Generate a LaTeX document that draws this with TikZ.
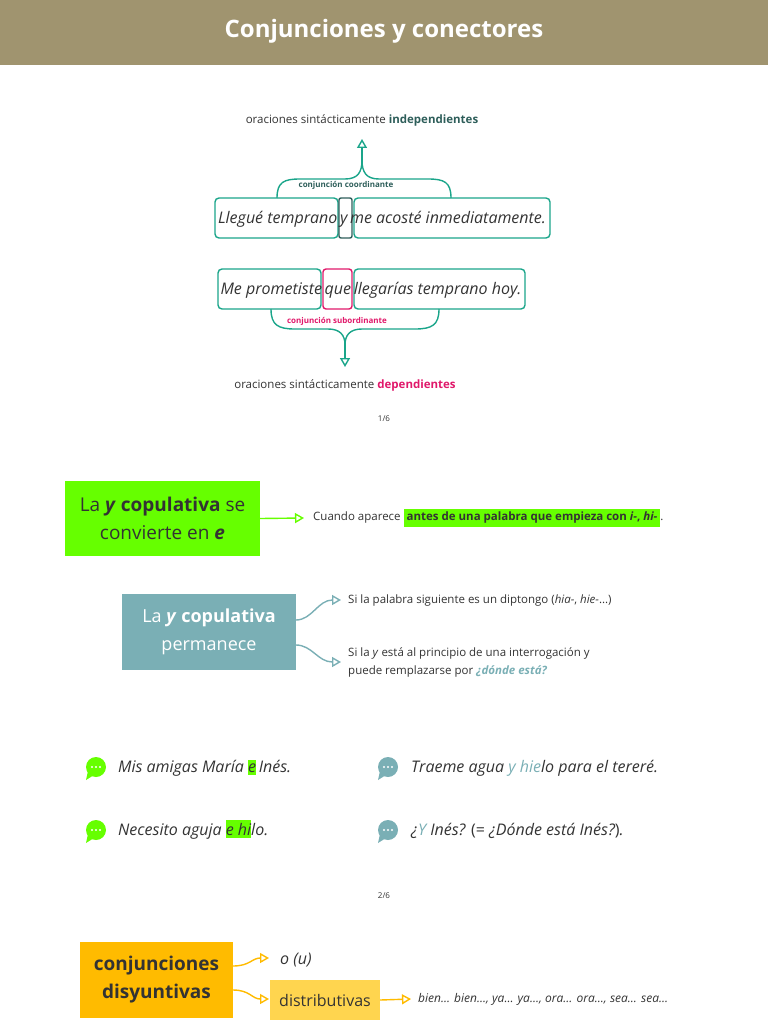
\documentclass[tikz,border=0pt]{standalone}
\usepackage{fontspec}
\setmainfont{Open Sans}
\usetikzlibrary{arrows.meta}
\definecolor{hdr}{HTML}{A0946F}
\definecolor{tealg}{HTML}{1AA58A}
\definecolor{dteal}{HTML}{2E5E5A}
\definecolor{mag}{HTML}{E0186A}
\definecolor{lime}{HTML}{66FF00}
\definecolor{bluet}{HTML}{7AAFB5}
\definecolor{org}{HTML}{FFBB00}
\definecolor{lorg}{HTML}{FFD54F}
\definecolor{txt}{HTML}{333333}
\tikzset{
 sbox/.style={draw=tealg,line width=1.4pt,rounded corners=4pt,inner sep=0pt},
 sent/.style={font=\fontsize{16}{18}\selectfont\itshape,text=txt,inner sep=0pt},
 small/.style={font=\fontsize{11.5}{14}\selectfont,text=txt,inner sep=0pt},
 otri/.style={-{Triangle[open,length=9pt,width=10pt]}},
 bubble/.pic={\fill[#1] (0,0) circle (10pt); \fill[#1] (-8pt,-4pt)--(-10pt,-13pt)--(-2pt,-8pt)--cycle;
   \foreach \d in {-4,0,4} \fill[white] (\d pt,0) circle (1.1pt);}
}
\begin{document}
\begin{tikzpicture}[x=1pt,y=-1pt]
\useasboundingbox (0,0) rectangle (768,1024);
\fill[hdr] (0,0) rectangle (768,65);
\node[text=white,font=\fontsize{24}{28}\selectfont\bfseries] (title) at (384,31) {Conjunciones y conectores};

% sentence 1
\node[small,anchor=base] (ind) at (362,124) {oraciones sintácticamente \textcolor{dteal}{\bfseries independientes}};
\draw[sbox] (215,198) rectangle (338,238);
\draw[sbox] (354,198) rectangle (550,238);
\draw[draw=dteal,line width=1.4pt,rounded corners=2pt] (339,198) rectangle (352,238);
\node[sent,anchor=base] (s1) at (382,223) {Llegué temprano\,y\,me acosté inmediatamente.};
\draw[tealg,line width=1.4pt] (277,198) .. controls (277,182) and (284,179) .. (300,179) -- (345,179) .. controls (358,179) and (362,172) .. (362,160)
  (451,198) .. controls (451,182) and (444,179) .. (428,179) -- (379,179) .. controls (366,179) and (362,172) .. (362,160);
\draw[tealg,line width=1.4pt,otri] (362,162) -- (362,139);
\node[text=dteal,font=\fontsize{8}{9}\selectfont\bfseries] (cc) at (346,185) {conjunción coordinante};

% sentence 2
\draw[sbox] (218,269) rectangle (321,309);
\draw[sbox] (354,269) rectangle (525,309);
\draw[draw=mag,line width=1.4pt,rounded corners=3pt] (323,269) rectangle (352,309);
\node[sent,anchor=base] (s2) at (371,294) {Me prometiste\,que\,llegarías temprano hoy.};
\draw[tealg,line width=1.4pt] (271,309) .. controls (271,325) and (278,329) .. (295,329) -- (328,329) .. controls (340,329) and (345,335) .. (345,345)
  (439,309) .. controls (439,325) and (432,329) .. (415,329) -- (362,329) .. controls (350,329) and (345,335) .. (345,345);
\draw[tealg,line width=1.4pt,otri] (345,343) -- (345,367);
\node[text=mag,font=\fontsize{8}{9}\selectfont\bfseries] (cs) at (337,321) {conjunción subordinante};
\node[small,anchor=base] (dep) at (345,388) {oraciones sintácticamente \textcolor{mag}{\bfseries dependientes}};
\node[small,font=\fontsize{8}{9}\selectfont] (p1) at (384,419) {1/6};

% y -> e
\node[fill=lime,minimum width=195pt,minimum height=75pt,align=center,font=\fontsize{19}{28}\selectfont,text=txt] (g) at (162.5,518.5) {La \textbf{\textit{y} copulativa} se\\convierte en \textbf{\textit{e}}};
\node[small,anchor=west] (c1) at (313,518) {Cuando aparece \colorbox{lime}{\bfseries antes de una palabra que empieza con \textit{i-}, \textit{hi-}}.};
\draw[lime,line width=1.4pt,otri] (g.east) -- (304,518);

\node[fill=bluet,minimum width=174pt,minimum height=76pt,align=center,font=\fontsize{18}{28}\selectfont,text=white] (b) at (209,632) {La \textbf{\textit{y} copulativa}\\permanece};
\node[small,anchor=base west] (d1) at (348,603) {Si la palabra siguiente es un diptongo (\textit{hia-}, \textit{hie-}...)};
\node[small,anchor=base west,align=left] (d2) at (348,656) {Si la \textit{y} está al principio de una interrogación y};
\node[small,anchor=base west] (d3) at (348,674) {puede remplazarse por \textcolor{bluet}{\bfseries\itshape ¿dónde está?}};
\draw[bluet,line width=1.4pt,otri] (296,620) .. controls (312,620) and (318,600) .. (341,600);
\draw[bluet,line width=1.4pt,otri] (296,645) .. controls (312,645) and (318,662) .. (341,662);

% examples
\pic at (96,767) {bubble=lime};
\pic at (388,767) {bubble=bluet};
\pic at (96,830) {bubble=lime};
\pic at (388,830) {bubble=bluet};
\node[sent,anchor=base west] (e1) at (118,772) {Mis amigas María \colorbox{lime}{\hspace{-3pt}e\hspace{-3pt}}\,Inés.};
\node[sent,anchor=base west] (e2) at (118,835) {Necesito aguja \colorbox{lime}{\hspace{-3pt}e hi\hspace{-3pt}}lo.};
\node[sent,anchor=base west] (e3) at (411,772) {Traeme agua \textcolor{bluet}{y hie}lo para el tereré.};
\node[sent,anchor=base west] (e4) at (411,835) {¿\textcolor{bluet}{Y} Inés? {\upshape(=} ¿Dónde está Inés?{\upshape)}.};
\node[small,font=\fontsize{8}{9}\selectfont] (p2) at (384,896) {2/6};

% disyuntivas
\node[fill=org,minimum width=153pt,minimum height=76pt,align=center,font=\fontsize{19}{28}\selectfont\bfseries,text=txt] (o) at (156.5,980) {conjunciones\\disyuntivas};
\node[sent,anchor=base west] (ou) at (280,964) {o (u)};
\node[fill=lorg,minimum width=110pt,minimum height=40pt,font=\fontsize{16}{18}\selectfont,text=txt] (dist) at (325,1000) {distributivas};
\node[sent,font=\fontsize{12}{14}\selectfont\itshape,anchor=west] (bb) at (418,999) {bien... bien..., ya... ya..., ora... ora..., sea... sea...};
\draw[org,line width=1.4pt,otri] (233,966) .. controls (250,966) and (252,958) .. (269,958);
\draw[org,line width=1.4pt,otri] (233,990) .. controls (250,990) and (252,999) .. (269,999);
\draw[org,line width=1.4pt,otri] (dist.east) -- (411,999);
\end{tikzpicture}
\end{document}
